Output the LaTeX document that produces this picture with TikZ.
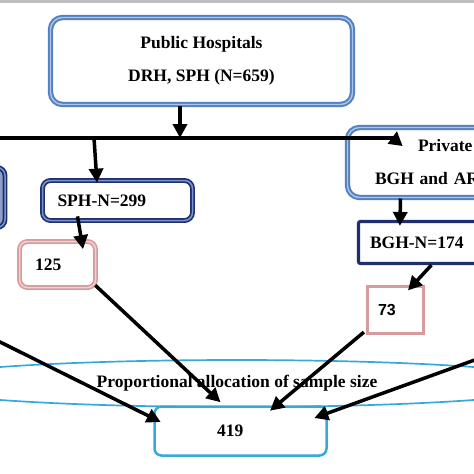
\documentclass[tikz,border=0pt]{standalone}
\usepackage{fontspec}
\setmainfont{Liberation Serif}
\newfontfamily\numsans{Liberation Sans}
\usetikzlibrary{arrows.meta,shapes.geometric}

\definecolor{pubblue}{HTML}{5580C0}
\definecolor{publight}{HTML}{A9C5EA}
\definecolor{navyc}{HTML}{1F2F6E}
\definecolor{navyband}{HTML}{7A93CE}
\definecolor{pinkc}{HTML}{D79B9B}
\definecolor{pinklight}{HTML}{F2CFCF}
\definecolor{cyanc}{HTML}{35A9DC}
\definecolor{leftfill}{HTML}{8E9FC9}

\begin{document}
\begin{tikzpicture}[x=1pt, y=-1pt,
  every node/.style={font=\bfseries\fontsize{17.5}{33}\selectfont},
  arr/.style={line width=3.5pt, -{Triangle[length=14pt,width=14pt]}},
  pubbox/.style={draw=pubblue, line width=2pt, double=publight, double distance=1.4pt,
    rounded corners=12pt, fill=white},
  navybox/.style={draw=navyc, line width=1.7pt, double=navyband, double distance=1.5pt,
    rounded corners=8pt, fill=white, align=left},
  pinkbox/.style={draw=pinkc, line width=1.7pt, double=pinklight, double distance=1.5pt,
    rounded corners=8pt, fill=white, align=left},
  flatbox/.style={line width=3.2pt, fill=white, align=left}]

\useasboundingbox (0,0) rectangle (474,474);
\clip (0,0) rectangle (474,474);

% Top bar
\fill[gray!50] (0,0) rectangle (474,2.5);

% Ellipse
\node[ellipse, draw=cyanc, line width=1.7pt, minimum width=664pt, minimum height=47pt,
  inner sep=0pt] (prop) at (237,383.5) {Proportional allocation of sample size};

% Boxes
\node[pubbox, minimum width=302pt, minimum height=87pt, align=center] (pub) at (201.5,61)
  {Public Hospitals\\DRH, SPH (N=659)};
\node[pubbox, minimum width=250pt, minimum height=70pt, align=left, text width=195pt,
  inner xsep=27.5pt] (pri) at (472.5,162.5)
  {\hspace*{43pt}Private Hospitals\\BGH and ARH};
\node[navybox, fill=leftfill, minimum width=150pt, minimum height=60pt] (lbox) at (-70,197.5) {};
\node[navybox, minimum width=150pt, minimum height=40pt, text width=120pt,
  inner xsep=15pt] (sph) at (117.5,200.5) {SPH-N=299};
\node[pinkbox, minimum width=76pt, minimum height=46pt, text width=45pt,
  inner xsep=15.5pt] (n125) at (57.5,264.5) {125};
\node[flatbox, draw=navyc, rounded corners=2pt, minimum width=200pt, minimum height=42pt,
  text width=177pt, inner xsep=11.5pt] (bgh) at (458.5,242.5) {BGH-N=174};
\node[flatbox, draw=pinkc, minimum width=56pt, minimum height=47pt, text width=35pt,
  inner xsep=10.5pt, font=\numsans\bfseries\fontsize{16}{20}\selectfont] (n73) at (395.5,310) {73};
\node[flatbox, draw=cyanc, line width=2.5pt, rounded corners=7pt, minimum width=172pt,
  minimum height=49pt, text width=47pt, inner xsep=62.5pt] (n419) at (240.5,431) {419};

% Bus
\coordinate (busL) at (-10,138);
\coordinate (busS) at (94,138);
\coordinate (busM) at (180,138);
\coordinate (busR) at (396,138);
\coordinate (srcL) at (-20,332);
\coordinate (srcR) at (494,353);
\draw[line width=3.5pt] (busL) -- (busR);

% Arrows
\draw[arr] (pub.south -| busM) -- (busM);
\draw[arr] (busR) -- ([xshift=1pt,yshift=-4.5pt]pri.north west -| busR);
\draw[arr] (busS) -- ([xshift=-20.5pt,yshift=-3pt]sph.north);
\draw[arr] ([xshift=-40pt,yshift=5pt]sph.south) -- ([xshift=25.5pt,yshift=-8.5pt]n125.north);
\draw[arr] ([xshift=-1pt,yshift=3pt]n125.south east) -- ([xshift=-20pt,yshift=3pt]n419.north);
\draw[arr] ([xshift=54pt]pri.south west) -- ([xshift=43pt,yshift=-6pt]bgh.north west);
\draw[arr] ([xshift=74.5pt]bgh.south west) -- ([xshift=12.5pt,yshift=-5.5pt]n73.north);
\draw[arr] ([xshift=-2pt,yshift=3pt]n73.south west) -- ([xshift=29.5pt,yshift=-5.5pt]n419.north);
\draw[arr] (srcL) -- ([xshift=7.5pt,yshift=9pt]n419.west);
\draw[arr] (srcR) -- ([xshift=-13.5pt,yshift=13pt]n419.east);

\end{tikzpicture}
\end{document}
